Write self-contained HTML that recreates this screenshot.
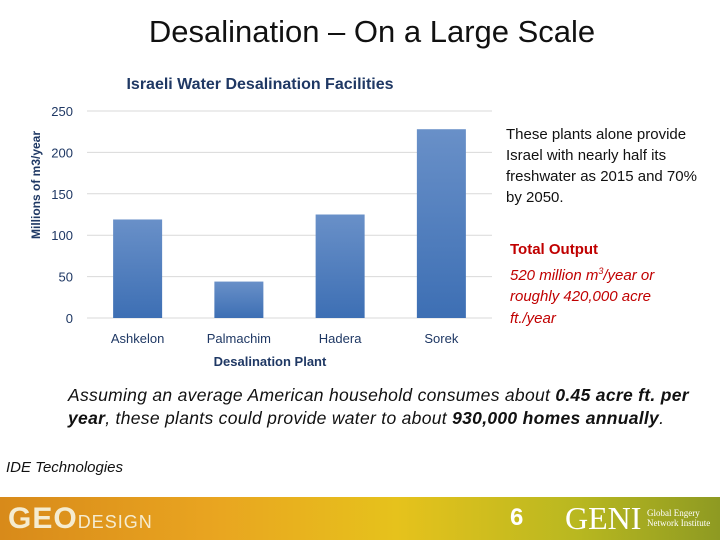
<!DOCTYPE html>
<html><head><meta charset="utf-8"><style>
body{margin:0;width:720px;height:540px;position:relative;background:#fff;font-family:"Liberation Sans",sans-serif;overflow:hidden}
.abs{position:absolute;margin:0;white-space:nowrap}
</style></head><body>
<div class="abs" style="left:0;width:744px;top:14px;text-align:center;font-size:31px;color:#111">Desalination – On a Large Scale</div>
<svg class="abs" style="left:0;top:0" width="720" height="380">
<defs><linearGradient id="bg" x1="0" y1="0" x2="0" y2="1"><stop offset="0" stop-color="#6990c8"/><stop offset="1" stop-color="#3d6fb4"/></linearGradient></defs>
<text x="260" y="89" text-anchor="middle" font-size="16" font-weight="bold" fill="#1f3864">Israeli Water Desalination Facilities</text>
<g id="grid"></g><g id="bars"></g><g id="labels"></g>
<text transform="translate(40,185) rotate(-90)" text-anchor="middle" font-size="12" font-weight="bold" fill="#1f3864">Millions of m3/year</text>
<text x="270" y="366" text-anchor="middle" font-size="13" font-weight="bold" fill="#1f3864">Desalination Plant</text>
</svg>
<div class="abs" style="left:506px;top:124px;font-size:15px;line-height:21px;color:#111">These plants alone provide<br>Israel with nearly half its<br>freshwater as 2015 and 70%<br>by 2050.</div>
<div class="abs" style="left:510px;top:239px;font-size:15px;line-height:21.5px;color:#c00000"><b>Total Output</b><br><i>520 million m<sup style="font-size:9px">3</sup>/year or<br>roughly 420,000 acre<br>ft./year</i></div>
<div class="abs" style="left:68px;top:384px;font-size:17.5px;line-height:23px;color:#111;font-style:italic;letter-spacing:0.3px">Assuming an average American household consumes about <b>0.45 acre ft. per</b><br><b>year</b>, these plants could provide water to about <b>930,000 homes annually</b>.</div>
<div class="abs" style="left:6px;top:459px;font-size:15px;font-style:italic;color:#111">IDE Technologies</div>
<div class="abs" style="left:0;top:497px;width:720px;height:43px;background:linear-gradient(90deg,#d88a1a 0%,#e9a520 30%,#e6c21c 55%,#b9b820 80%,#8e9a22 100%)">
<div class="abs" style="left:8px;top:5px;font-size:30px;font-weight:bold;color:#f5ecd0;letter-spacing:1px">GEO<span style="font-size:18px;font-weight:normal">DESIGN</span></div>
<div class="abs" style="left:510px;top:7px;font-size:24px;font-weight:bold;color:#fff">6</div>
<div class="abs" style="left:565px;top:3px;font-family:'Liberation Serif',serif;font-size:32px;color:#fff">GENI</div>
<div class="abs" style="left:647px;top:11px;font-family:'Liberation Serif',serif;font-size:9px;line-height:10px;color:#fff">Global Engery<br>Network Institute</div>
</div>
<script>
const categories=["Ashkelon","Palmachim","Hadera","Sorek"];
const values=[119,44,125,228];
const ticks=[0,50,100,150,200,250];
const ns="http://www.w3.org/2000/svg";
const y=v=>318-v*0.828, x0=87, step=101.25, bw=49;
const g=document.getElementById('grid'),b=document.getElementById('bars'),l=document.getElementById('labels');
function mk(t,a){const e=document.createElementNS(ns,t);for(const k in a)e.setAttribute(k,a[k]);return e;}
ticks.forEach(t=>{
 const ln=mk('line',{x1:x0,x2:492,y1:y(t),y2:y(t),stroke:'#d9d9d9','stroke-width':1});
 
 
 g.appendChild(ln);
 const tx=mk('text',{x:73,y:y(t)+5,'text-anchor':'end','font-size':13,fill:'#1f3864'});
 tx.textContent=t;
 
 
 g.appendChild(tx);
});
categories.forEach((c,i)=>{
 const cx=x0+step*(i+0.5);
 const r=mk('rect',{x:cx-bw/2,y:y(values[i]),width:bw,height:values[i]*0.828,fill:'url(#bg)'});
 
 
 b.appendChild(r);
 const t=mk('text',{x:cx,y:343,'text-anchor':'middle','font-size':13,fill:'#1f3864'});
 t.textContent=c;
 
 
 l.appendChild(t);
});
</script>
</body></html>
